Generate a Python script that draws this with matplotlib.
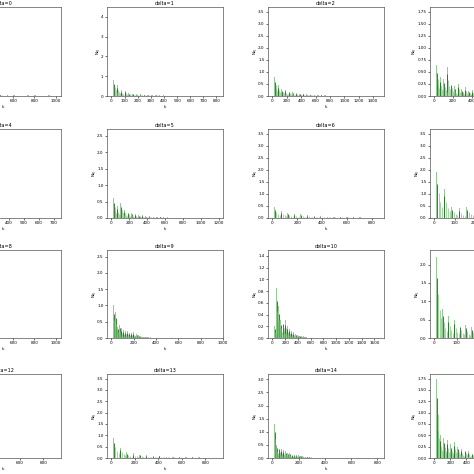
import matplotlib
matplotlib.use("Agg")
import matplotlib.pyplot as plt
import numpy as np

W = H = 474
titles = ["delta=%d" % i for i in range(16)]
xmax = [1050, 850, 1550, 1200, 750, 1250, 900, 550, 1050, 1000, 1750, 500, 950, 950, 850, 1400]
ymax = [2.6, 4.5, 3.7, 1.85, 3.7, 2.7, 3.7, 3.7, 3.7, 2.7, 1.5, 2.4, 3.7, 3.7, 3.2, 1.85]
ystep = [0.5, 1.0, 0.5, 0.25, 0.5, 0.5, 0.5, 0.5, 0.5, 0.5, 0.2, 0.5, 0.5, 0.5, 0.5, 0.25]
xstep = [200, 100, 200, 200, 100, 200, 200, 100, 200, 200, 200, 100, 200, 200, 200, 200]
heights = [
 [0.05,0.03,0.04,0.02,0.03,0.02,0.02,0.03,0.02,0.02,0.01,0.02,0.02,0.01,0.02,0.01],
 [0.8,0.55,0.3,0.25,0.15,0.12,0.1,0.08,0.06,0.05,0.04,0.05,0.03,0.03,0.02,0.02,0.02,0.01],
 [0.8,0.45,0.3,0.25,0.2,0.15,0.12,0.1,0.1,0.08,0.06,0.05,0.04,0.03,0.03,0.02],
 [0.65,0.4,0.35,0.6,0.3,0.2,0.25,0.15,0.18,0.1,0.12,0.08,0.06,0.05,0.04,0.03],
 [0.05,0.04,0.03,0.03,0.02,0.02,0.02,0.02,0.01,0.01,0.01,0.01],
 [0.6,0.35,0.45,0.25,0.2,0.15,0.12,0.1,0.08,0.06,0.05,0.04,0.03,0.03,0.02,0.02],
 [0.45,0.3,0.2,0.15,0.15,0.12,0.1,0.08,0.06,0.05,0.05,0.04,0.03,0.03,0.02,0.02],
 [1.9,1.2,0.45,0.4,0.45,0.3,0.35,0.25,0.2,0.2,0.15,0.15,0.12,0.1],
 [0.05,0.04,0.03,0.03,0.02,0.02,0.02,0.01,0.01,0.01],
 [1.0,0.8,0.35,0.4,0.3,0.25,0.2,0.2,0.15,0.15,0.18,0.1,0.12,0.08,0.05,0.04,0.03,0.03,0.02,0.02],
 [0.2,0.85,0.55,0.3,0.32,0.3,0.2,0.15,0.12,0.1,0.06,0.05,0.04,0.03,0.03,0.02],
 [2.2,0.8,0.6,0.5,0.4,0.35,0.3,0.3,0.25,0.2,0.18,0.15,0.12,0.1],
 [0.04,0.03,0.03,0.02,0.02,0.02,0.01,0.01],
 [0.9,0.45,0.25,0.2,0.15,0.12,0.1,0.1,0.08,0.06,0.05,0.04,0.03,0.03,0.02,0.02],
 [1.3,0.5,0.45,0.35,0.3,0.25,0.2,0.18,0.15,0.12,0.12,0.1,0.08,0.06,0.05,0.04,0.03,0.02],
 [1.75,0.5,0.45,0.4,0.3,0.35,0.25,0.2,0.2,0.15,0.12,0.1,0.08],
]
spread = [0.95, 0.6, 0.5, 0.5, 0.95, 0.5, 0.9, 0.9, 0.95, 0.35, 0.3, 0.7, 0.95, 0.9, 0.35, 0.4]

fig = plt.figure(figsize=(W/100, H/100), dpi=100)
cols_x = [-55, 107, 268, 430]
rows_y = [(7, 96), (129, 218), (250, 338), (374, 458)]
for i in range(16):
    r, c = divmod(i, 4)
    x0 = cols_x[c]; y0, y1 = rows_y[r]
    ax = fig.add_axes([x0/W, 1 - y1/H, 116/W, (y1-y0)/H])
    h = np.array(heights[i])
    pos = np.linspace(xmax[i]*0.02, xmax[i]*spread[i], len(h))
    gap = pos[1] - pos[0]
    ax.bar(pos, h, width=xmax[i]*0.008, color="#7fc47f", alpha=0.85)
    ax.vlines(pos, 0, h*0.75, color="#1a6b1a", lw=0.6)
    for f, s in [(0.25, 0.55), (0.5, 0.35), (0.75, 0.25)]:
        ax.vlines(pos + gap*f, 0, h*s, color="#6cbf6c", lw=0.45)
    ax.set_xlim(-xmax[i]*0.04, xmax[i])
    ax.set_ylim(0, ymax[i])
    ax.set_yticks(np.arange(0, ymax[i]+1e-9, ystep[i]))
    ax.set_xticks(np.arange(0, xmax[i]+1, xstep[i]))
    ax.tick_params(labelsize=3, length=1.5, width=0.4, pad=1)
    ax.set_title(titles[i], fontsize=3.5, pad=1.5)
    ax.set_xlabel("k", fontsize=3, labelpad=1)
    ax.set_ylabel("Nq", fontsize=3, labelpad=1)
    for s in ax.spines.values():
        s.set_linewidth(0.5); s.set_color("#555555")
fig.savefig("out.png", dpi=100)
